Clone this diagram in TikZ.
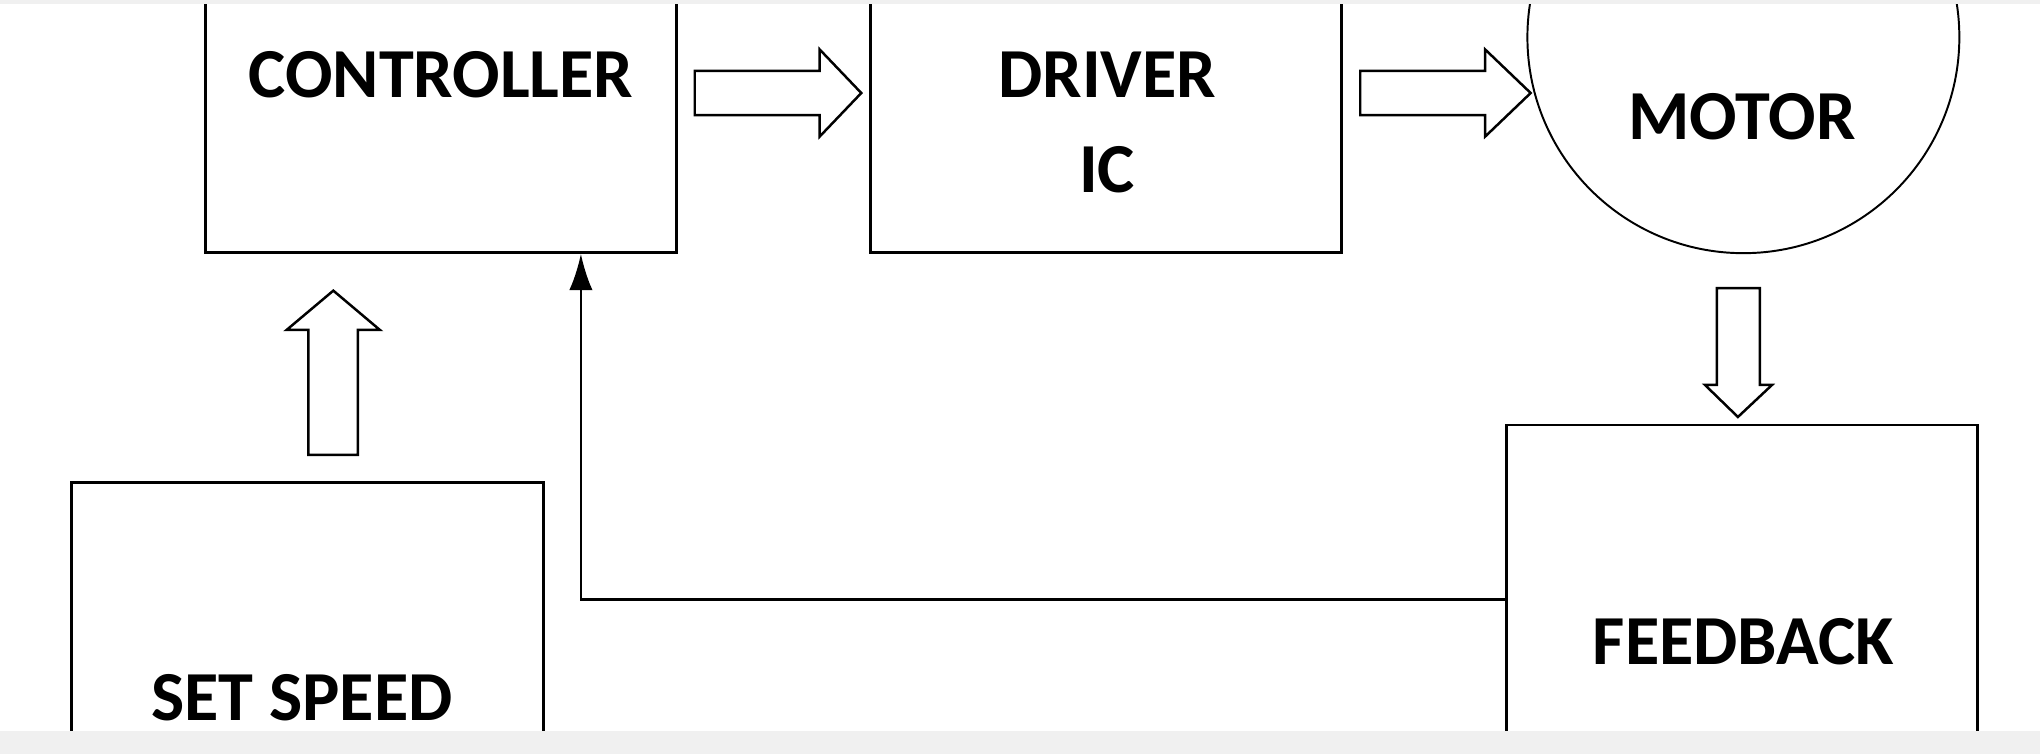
\documentclass[tikz,border=0pt]{standalone}
\usepackage{fontspec}
\setmainfont{Carlito}
\usetikzlibrary{calc,arrows.meta}
\definecolor{bandgray}{HTML}{F0F0F0}
\tikzset{
  boxnode/.style={draw=black, line width=2.1pt, fill=white, rectangle, inner sep=0pt},
  lbl/.style={font=\fontsize{54}{60}\selectfont\bfseries, inner sep=0pt, anchor=center},
  blockarr/.style={draw=black, line width=1.9pt, fill=white, line join=miter},
  fbline/.style={draw=black, line width=2pt, -{Latex[length=28pt,width=18pt]}},
}
\begin{document}
\begin{tikzpicture}[x=1pt,y=-1pt]
\useasboundingbox (0,0) rectangle (1568,579.5);
\fill[white] (0,0) rectangle (1568,579.5);
% boxes
\node[boxnode, minimum width=362pt, minimum height=214pt] (ctrl) at (339,87) {};
\node[boxnode, minimum width=362pt, minimum height=214pt] (drv) at (850.25,87) {};
\node[draw=black, line width=1.5pt, circle, minimum size=332pt, inner sep=0pt] (motor) at (1340,28.6) {};
\node[boxnode, minimum width=362pt, minimum height=280pt] (fb) at (1339,466.7) {};
\node[boxnode, minimum width=362.5pt, minimum height=240pt] (sp) at (236.25,491) {};
% labels
\node[lbl] (ctrltxt) at (339,57.5) {CONTROLLER};
\node[lbl] (drvtxt1) at (851,57.5) {DRIVER};
\node[lbl] (drvtxt2) at (851,130.5) {IC};
\node[lbl] (motortxt) at (1339,90) {MOTOR};
\node[lbl] (fbtxt) at (1340,493) {FEEDBACK};
\node[lbl] (sptxt) at (232,536) {SET SPEED};
% block arrows
\draw[blockarr] (534,54.5) -- (630,54.5) -- (630,38) -- (662,71.5) -- (630,105) -- (630,88.5) -- (534,88.5) -- cycle;
\draw[blockarr] (1045.5,54.5) -- (1141.5,54.5) -- (1141.5,38) -- (1176.5,71.5) -- (1141.5,105) -- (1141.5,88.5) -- (1045.5,88.5) -- cycle;
\draw[blockarr] (237,349.7) -- (237,253.6) -- (220.3,253.6) -- (256.2,223.4) -- (292,253.6) -- (275,253.6) -- (275,349.7) -- cycle;
\draw[blockarr] (1319.7,221.4) -- (1319.7,295.9) -- (1310.5,295.9) -- (1335.8,320.5) -- (1362,295.9) -- (1352.7,295.9) -- (1352.7,221.4) -- cycle;
% feedback connector
\coordinate (fbx) at (446.5,461);
\draw[fbline] (fb.west |- fbx) -- (fbx) -- (fbx |- ctrl.south);
% screenshot bands
\fill[bandgray] (0,0) rectangle (1568,3);
\fill[bandgray] (0,562) rectangle (1568,579.5);
\end{tikzpicture}
\end{document}
